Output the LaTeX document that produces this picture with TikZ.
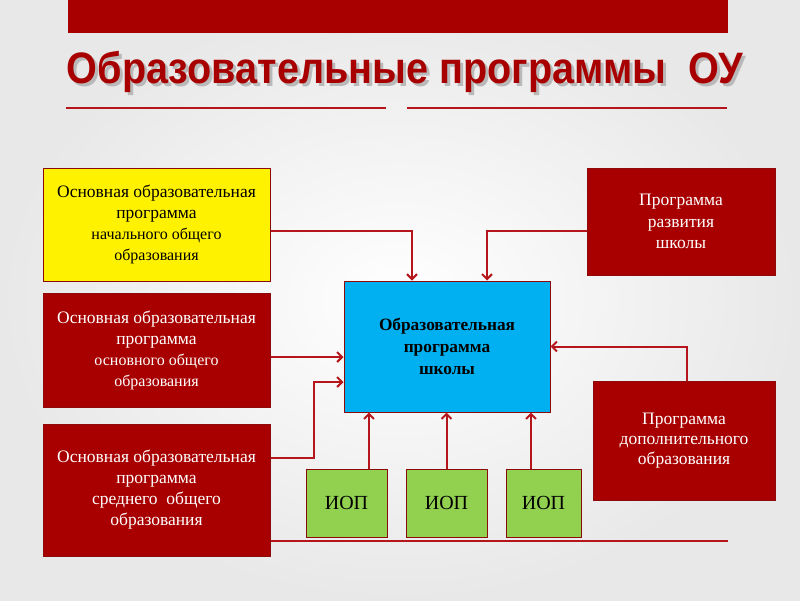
\documentclass[tikz,border=0pt]{standalone}
\usepackage{fontspec}
\setmainfont{Liberation Serif}
\newfontfamily\titlefont{Liberation Sans}
\usetikzlibrary{arrows.meta}
\definecolor{boxred}{HTML}{A80000}
\definecolor{linered}{HTML}{B5161C}
\definecolor{edgered}{HTML}{8C0A0A}
\definecolor{skyblue}{HTML}{00B0F0}
\definecolor{leafgreen}{HTML}{92D050}
\newcommand{\titletext}{\scalebox{0.9}[1]{Образовательные программы\ \ ОУ}}
\newcommand{\smallline}[1]{{\fontsize{16}{21}\selectfont #1}}
\begin{document}
\begin{tikzpicture}[x=1pt,y=-1pt,
	block/.style={draw=edgered, line width=1pt, inner sep=0pt, align=center, font=\fontsize{17.5}{21}\selectfont},
	redblock/.style={block, fill=boxred, text=white},
	iopblock/.style={block, fill=leafgreen, minimum height=68pt, font=\fontsize{20}{22}\selectfont},
	link/.style={draw=linered, line width=2pt, -{Straight Barb[length=5pt,width=10pt]}}]
	\shade [inner color=white, outer color=gray!18] (0,0) rectangle (800,600);
	\useasboundingbox (0,0) rectangle (800,600);
	
	\fill [boxred] (68,0) rectangle (728,33);
	\node [text=gray!55, font=\titlefont\bfseries\fontsize{44}{48}\selectfont] (shadow) at (408,75) {\titletext};
	\node [text=boxred, font=\titlefont\bfseries\fontsize{44}{48}\selectfont] (title) at (405,72) {\titletext};
	\draw [linered, line width=1.5pt] (66,108) -- (386,108);
	\draw [linered, line width=1.5pt] (407,108) -- (727,108);
	
	\node [block, fill=yellow, minimum width=227pt, minimum height=113pt] (nach) at (156.5,224.5) {Основная образовательная\\программа\\\smallline{начального общего}\\\smallline{образования}};
	\node [redblock, minimum width=227pt, minimum height=114pt] (osn) at (156.5,350) {Основная образовательная\\программа\\\smallline{основного общего}\\\smallline{образования}};
	\node [redblock, minimum width=227pt, minimum height=132pt] (sred) at (156.5,490) {Основная образовательная\\программа\\среднего\ \ общего\\образования};
	\node [block, fill=skyblue, minimum width=206pt, minimum height=131pt, font=\bfseries\fontsize{17.3}{22}\selectfont] (prog) at (447,346.5) {Образовательная\\программа\\школы};
	\node [redblock, minimum width=188pt, minimum height=107pt, font=\fontsize{17.5}{21.5}\selectfont] (razv) at (681,221.5) {Программа\\развития\\школы};
	\node [redblock, minimum width=182pt, minimum height=119pt, font=\fontsize{17.5}{20}\selectfont] (dop) at (684,440.5) {Программа\\дополнительного\\образования};
	\node [iopblock, minimum width=81pt] (iop1) at (346.5,503) {ИОП};
	\node [iopblock, minimum width=81pt] (iop2) at (446.5,503) {ИОП};
	\node [iopblock, minimum width=75pt] (iop3) at (543.5,503) {ИОП};
	
	\draw [link] ([yshift=-6.5pt]nach.east) -| ([xshift=-35pt]prog.north);
	\draw [link] ([yshift=-9.5pt]razv.west) -| ([xshift=40pt]prog.north);
	\draw [link] ([yshift=-7pt]osn.east) -- ([yshift=-10.5pt]prog.west);
	\draw [link] ([yshift=32pt]sred.east) -- ++(43,0) |- ([yshift=-35.5pt]prog.west);
	\draw [link] ([xshift=3pt]dop.north) |- (prog.east);
	
	\coordinate (up1) at ([xshift=22.5pt]iop1.north);
	\coordinate (up3) at ([xshift=-12.5pt]iop3.north);
	\draw [link] (up1) -- (up1 |- prog.south);
	\draw [link] (iop2.north) -- (iop2.north |- prog.south);
	\draw [link] (up3) -- (up3 |- prog.south);
	
	\coordinate (base) at (728,541);
	\draw [linered, line width=2pt] ([yshift=-51pt]sred.east) -- (base);
\end{tikzpicture}
\end{document}
